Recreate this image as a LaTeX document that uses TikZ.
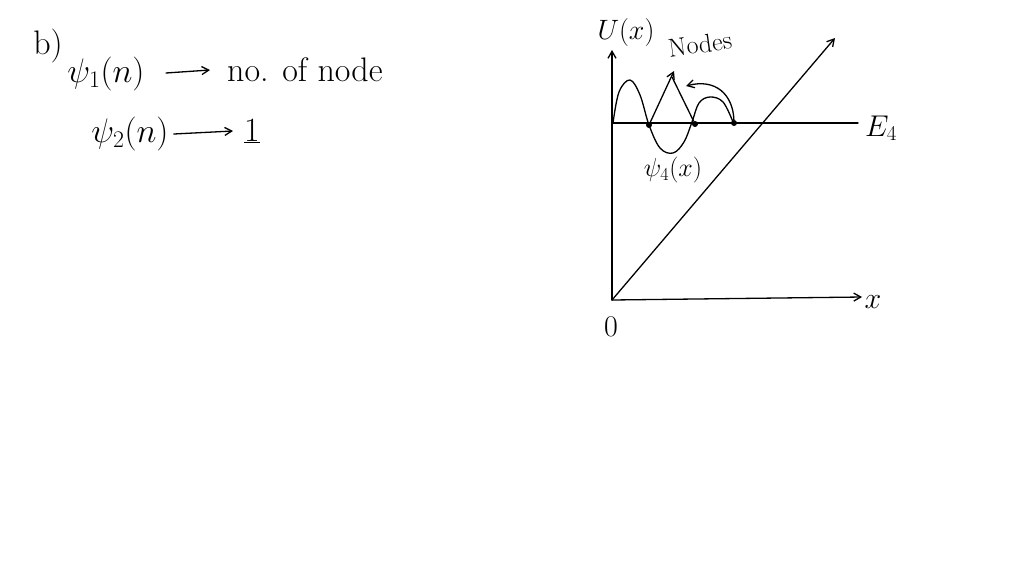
\RequirePackage{fix-cm}
\documentclass[tikz,border=0pt]{standalone}
\usetikzlibrary{arrows.meta}
\begin{document}
\begin{tikzpicture}[x=1pt,y=-1pt,
  hand/.style={line width=1.3pt,line cap=round,line join=round},
  arr/.style={hand,-{Straight Barb[length=7pt,width=8pt]}},
  txt/.style={inner sep=1pt,font=\fontsize{34}{38}\selectfont},
  lbl/.style={inner sep=1pt,font=\fontsize{26}{30}\selectfont},
  dotnode/.style={circle,fill,inner sep=0pt,minimum size=6pt}]
\useasboundingbox[fill=white] (0,0) rectangle (1024,568);
% left text
\node[txt] (b) at (48,46) {b)};
\node[txt] (p1) at (106,74) {$\psi_1(n)$};
\node[txt,anchor=west] (t1) at (226,70) {no. of node};
\draw[arr] (166,73) -- ([xshift=-16pt]t1.west);
\node[txt] (p2) at (130,134) {$\psi_2(n)$};
\node[txt] (one) at (252,131) {\underline{1}};
\draw[arr] ([xshift=4pt]p2.east) -- ([xshift=-10pt]one.west);
% axes
\coordinate (O) at (612,300);
\coordinate (ytop) at (612,50);
\coordinate (xend) at (862,297);
\coordinate (dend) at (835,38);
\draw[arr] (O) -- (ytop);
\draw[arr] (O) -- (xend);
\draw[arr] (O) -- (dend);
\coordinate (eL) at (612,123);
\coordinate (eR) at (858,123);
\draw[hand] (eL) -- (eR);
\node[lbl,font=\fontsize{28}{32}\selectfont] (U) at (626,32) {$U(x)$};
\node[lbl,font=\fontsize{30}{34}\selectfont] (E) at (881,128) {$E_4$};
\node[lbl,font=\fontsize{30}{34}\selectfont] (xl) at (873,302) {$x$};
\node[lbl,font=\fontsize{30}{34}\selectfont] (zero) at (611,327) {0};
\node[lbl] (psi4) at (673,170) {$\psi_4(x)$};
\node[lbl,rotate=8] (nodes) at (700,44) {Nodes};
% wave
\draw[hand] plot[smooth,tension=0.6] coordinates {(613,123) (619,92) (630,80) (640,95) (649,125) (660,148) (673,153) (684,142) (692,122) (699,103) (710,97) (723,102) (733,122)};
\node[dotnode] (n1) at (649,125) {};
\node[dotnode] (n2) at (695,124) {};
\node[dotnode] (n3) at (734,123) {};
\coordinate (tip) at (674,71);
\draw[arr] (n1) -- (tip);
\draw[hand] (n2) -- (672,77);
\draw[arr] (n3) .. controls (733,95) and (716,78) .. (686,86);
\end{tikzpicture}
\end{document}
